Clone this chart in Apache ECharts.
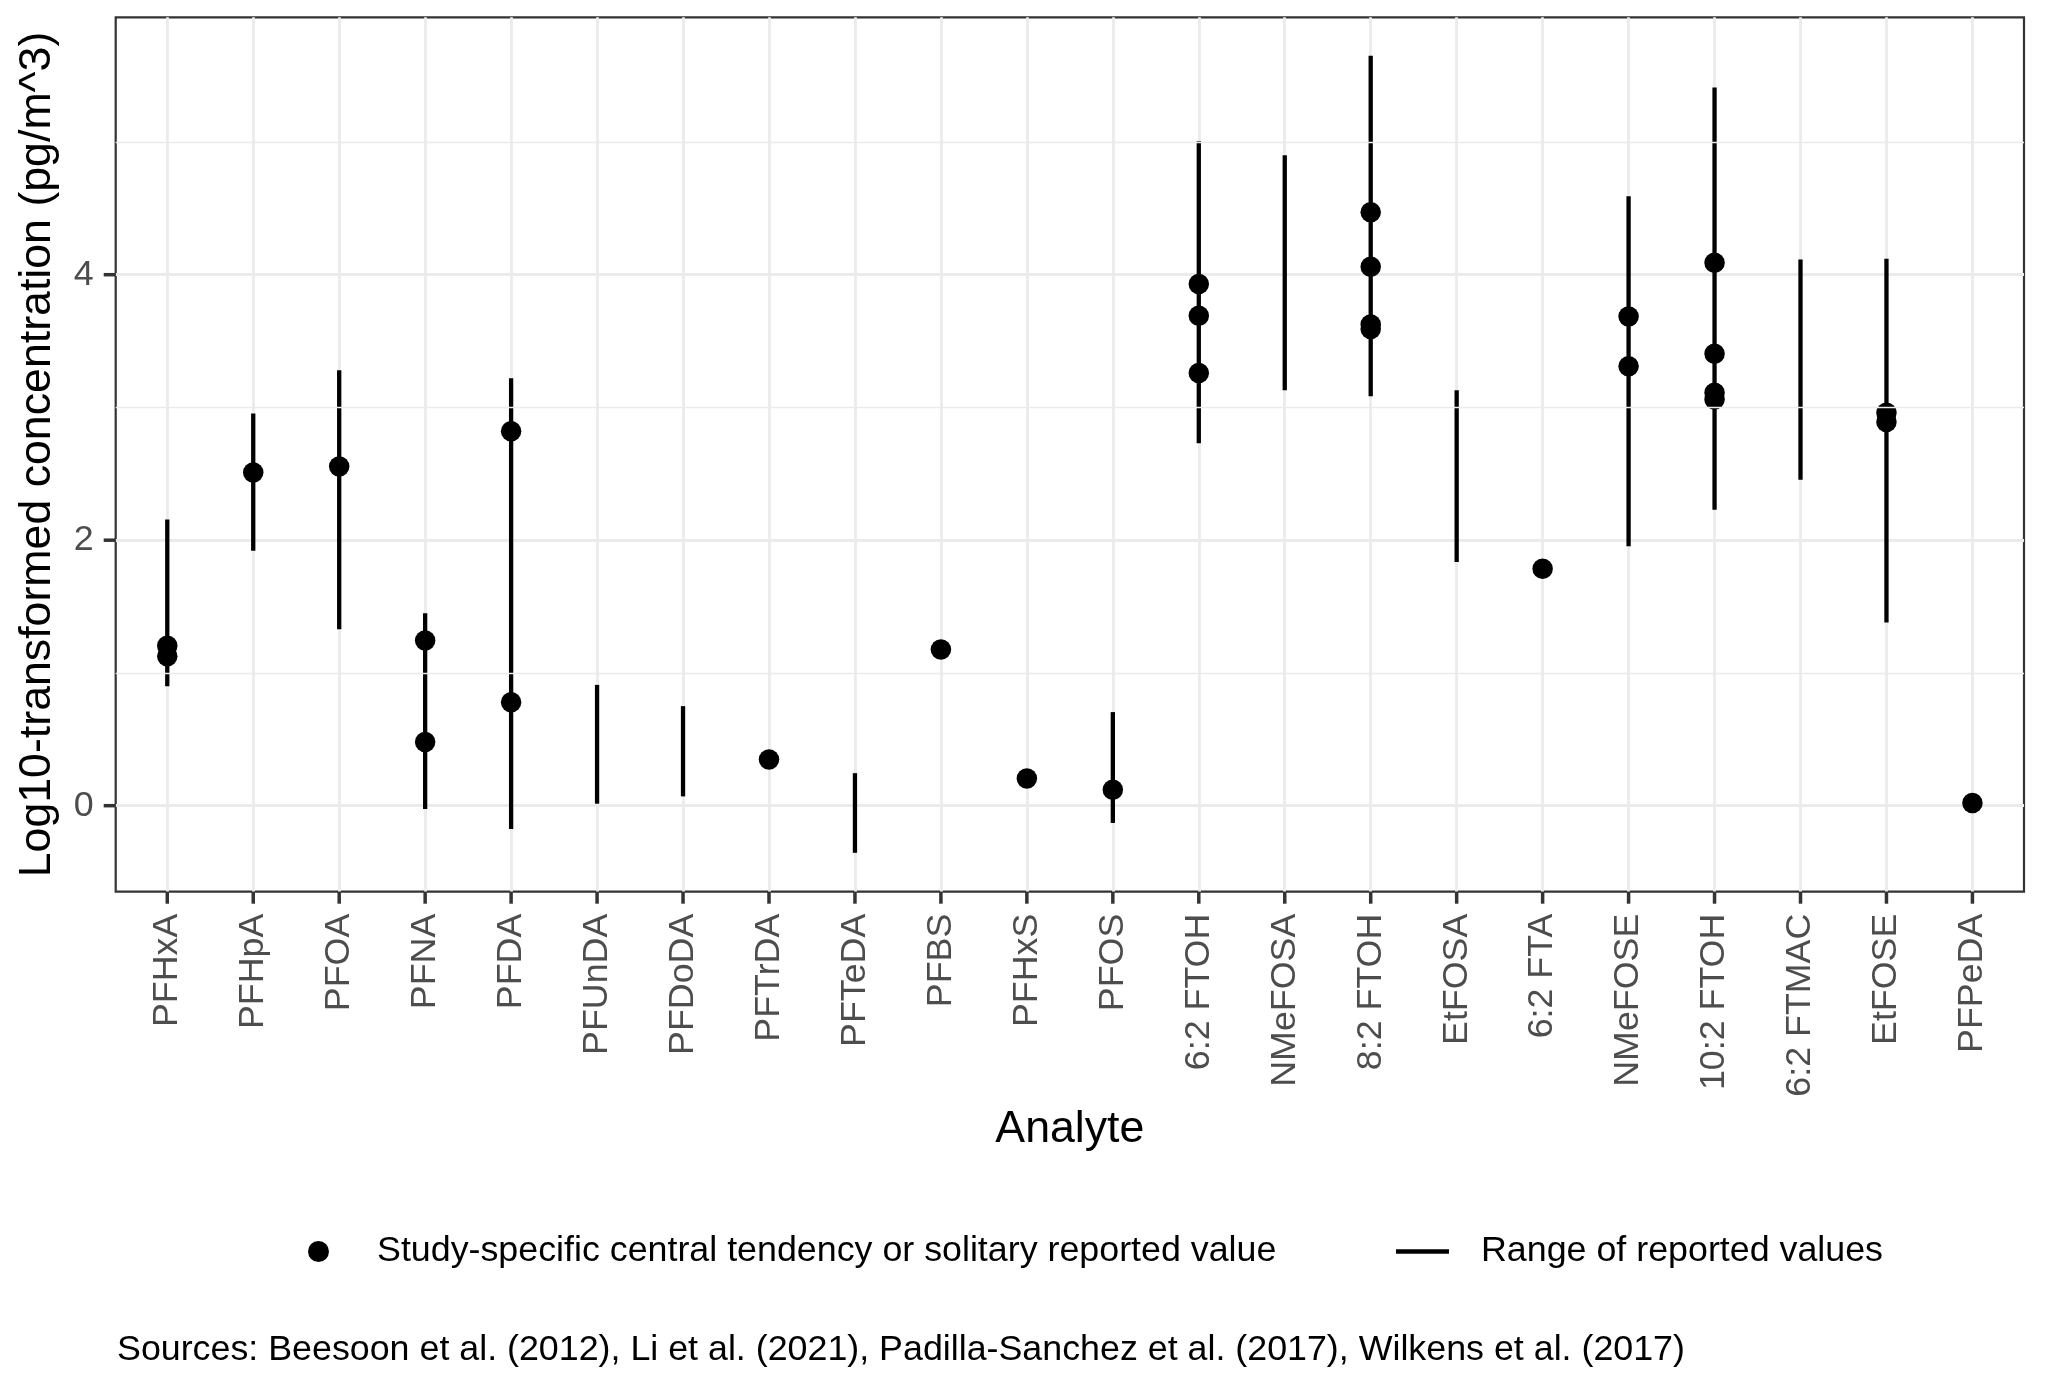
<!DOCTYPE html>
<html>
<head>
<meta charset="utf-8">
<script src="https://cdn.jsdelivr.net/npm/echarts@6/dist/echarts.min.js"></script>
<style>html,body{margin:0;padding:0;background:#fff}#c{width:2048px;height:1386px}</style>
</head>
<body>
<div id="c"></div>
<script>
const categories = ['PFHxA','PFHpA','PFOA','PFNA','PFDA','PFUnDA','PFDoDA','PFTrDA','PFTeDA','PFBS','PFHxS','PFOS','6:2 FTOH','NMeFOSA','8:2 FTOH','EtFOSA','6:2 FTA','NMeFOSE','10:2 FTOH','6:2 FTMAC','EtFOSE','PFPeDA'];
const rangeLow  = [0.90, 1.92, 1.33, -0.025, -0.175, 0.015, 0.07, null, -0.355, null, null, -0.13, 2.73, 3.13, 3.085, 1.835, null, 1.955, 2.23, 2.455, 1.38, null];
const rangeHigh = [2.155, 2.955, 3.28, 1.45, 3.22, 0.91, 0.75, null, 0.245, null, null, 0.705, 5.005, 4.90, 5.65, 3.13, null, 4.59, 5.41, 4.115, 4.12, null];
const pointValues = [
  [1.205, 1.125], [2.51], [2.555], [1.245, 0.48], [2.82, 0.78], [], [], [0.347], [], [1.176], [0.205], [0.12],
  [3.93, 3.69, 3.26], [], [4.47, 4.06, 3.625, 3.59], [], [1.785], [3.685, 3.31], [4.09, 3.405, 3.11, 3.06], [], [2.96, 2.89], [0.02]
];
const yTicks = [0, 2, 4];
const yMinorGrid = [1, 3, 5];
const xTicks = categories.map((c, i) => i);
const pointName = 'Study-specific central tendency or solitary reported value';
const rangeName = 'Range of reported values';
const captionText = 'Sources: Beesoon et al. (2012), Li et al. (2021), Padilla-Sanchez et al. (2017), Wilkens et al. (2017)';

const X_MIN = -0.6, X_MAX = 21.6;
const Y_MIN = -0.648, Y_MAX = 5.939;
const TICK_LEN = 12;

const rangeData = [];
categories.forEach((c, i) => { if (rangeLow[i] != null) rangeData.push([i, rangeLow[i], rangeHigh[i]]); });
const pointData = [];
pointValues.forEach((arr, i) => arr.forEach(v => pointData.push([i, v])));

const FONT = "'Liberation Sans', Arial, Helvetica, sans-serif";
const SMALL = 35.8;
const BIG = 44.7;
const chart = echarts.init(document.getElementById('c'), null, {renderer: 'canvas'});
chart.setOption({
  animation: false,
  backgroundColor: '#ffffff',
  textStyle: {fontFamily: FONT},
  title: {
    text: captionText, left: 117, top: 1330, padding: 0,
    textStyle: {fontFamily: FONT, fontSize: SMALL, fontWeight: 'normal', color: '#000', lineHeight: 40}
  },
  legend: [
    {
      data: [{name: pointName, icon: 'circle'}], selectedMode: false, orient: 'horizontal',
      left: 308, top: 1231.5, padding: 0, itemWidth: 21, itemHeight: 21,
      textStyle: {fontFamily: FONT, fontSize: SMALL, color: '#000', lineHeight: 40, padding: [0, 0, 0, 43]}
    },
    {
      data: [{name: rangeName, icon: 'rect'}], selectedMode: false, orient: 'horizontal',
      left: 1396, top: 1231.5, padding: 0, itemWidth: 53, itemHeight: 4.3,
      textStyle: {fontFamily: FONT, fontSize: SMALL, color: '#000', lineHeight: 40, padding: [0, 0, 0, 27]}
    }
  ],
  grid: {
    left: 115.7, right: 24, top: 17.3, bottom: 494.3,
    show: true, borderColor: '#333333', borderWidth: 2.2, backgroundColor: 'transparent'
  },
  xAxis: {
    type: 'value', min: X_MIN, max: X_MAX, position: 'bottom',
    name: 'Analyte', nameLocation: 'middle', nameGap: 212,
    nameTextStyle: {fontFamily: FONT, fontSize: BIG, color: '#000', lineHeight: 50},
    axisLine: {show: false, onZero: false},
    axisTick: {show: false, customValues: xTicks},
    axisLabel: {
      show: true, customValues: xTicks, rotate: 90, margin: 22,
      fontFamily: FONT, fontSize: SMALL, color: '#4d4d4d',
      formatter: v => categories[Math.round(v)] || ''
    },
    splitLine: {show: true, lineStyle: {color: '#ebebeb', width: 2.8}}
  },
  yAxis: {
    type: 'value', min: Y_MIN, max: Y_MAX, position: 'left',
    name: 'Log10-transformed concentration (pg/m^3)', nameLocation: 'middle', nameGap: 47,
    nameTextStyle: {fontFamily: FONT, fontSize: BIG, color: '#000', lineHeight: 50},
    axisLine: {show: false, onZero: false},
    axisTick: {show: false, customValues: yTicks},
    axisLabel: {show: true, customValues: yTicks, margin: 22, fontFamily: FONT, fontSize: SMALL, color: '#4d4d4d'},
    splitLine: {show: true, lineStyle: {color: '#ebebeb', width: 2.8}}
  },
  series: [
    {
      type: 'scatter', name: '_minor', data: [], z: 1, silent: true,
      markLine: {
        silent: true, symbol: 'none', label: {show: false},
        lineStyle: {color: '#ebebeb', width: 1.4, type: 'solid'},
        data: yMinorGrid.map(v => ({yAxis: v}))
      }
    },
    {
      type: 'custom', name: '_xticks', silent: true, clip: false, z: 5,
      data: xTicks.map(v => [v, Y_MIN]),
      encode: {x: 0, y: 1},
      renderItem: (params, api) => {
        const p = api.coord([api.value(0), Y_MIN]);
        return {type: 'line', shape: {x1: p[0], y1: p[1], x2: p[0], y2: p[1] + TICK_LEN},
                style: {stroke: '#333333', lineWidth: 3.5}};
      }
    },
    {
      type: 'custom', name: '_yticks', silent: true, clip: false, z: 5,
      data: yTicks.map(v => [X_MIN, v]),
      encode: {x: 0, y: 1},
      renderItem: (params, api) => {
        const p = api.coord([X_MIN, api.value(1)]);
        return {type: 'line', shape: {x1: p[0] - TICK_LEN, y1: p[1], x2: p[0], y2: p[1]},
                style: {stroke: '#333333', lineWidth: 3.5}};
      }
    },
    {
      type: 'custom', name: rangeName, z: 3,
      itemStyle: {color: '#000000'},
      encode: {x: 0, y: [1, 2]},
      data: rangeData,
      renderItem: (params, api) => {
        const p1 = api.coord([api.value(0), api.value(1)]);
        const p2 = api.coord([api.value(0), api.value(2)]);
        return {type: 'line', shape: {x1: p1[0], y1: p1[1], x2: p2[0], y2: p2[1]},
                style: {stroke: '#000000', lineWidth: 4.3, lineCap: 'butt'}};
      }
    },
    {
      type: 'scatter', name: pointName, z: 4,
      symbol: 'circle', symbolSize: 20.5,
      itemStyle: {color: '#000000', opacity: 1},
      data: pointData
    }
  ]
});
</script>
</body>
</html>
